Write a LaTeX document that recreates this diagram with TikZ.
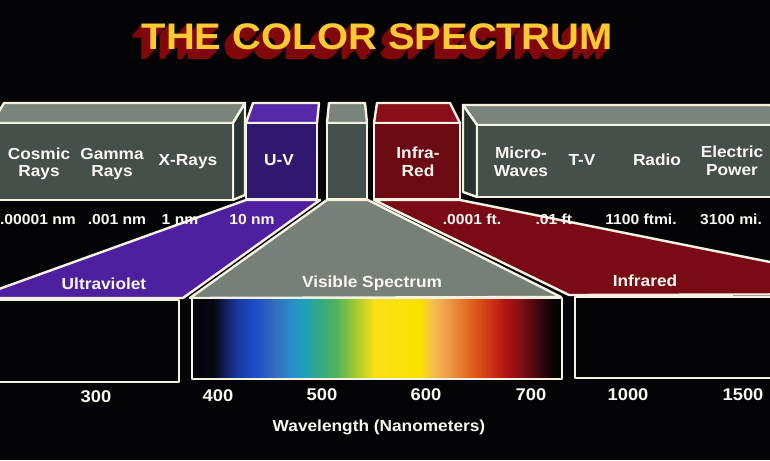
\documentclass[tikz,border=0pt]{standalone}
\usepackage{fontspec}
\setmainfont{Liberation Sans}[FakeStretch=1.08]
\definecolor{bg}{RGB}{4,4,6}
\definecolor{lineW}{RGB}{245,242,225}
\definecolor{txtW}{RGB}{248,248,240}
\definecolor{gFront}{RGB}{70,80,74}
\definecolor{gTop}{RGB}{120,132,124}
\definecolor{gSide}{RGB}{42,52,48}
\definecolor{gFun}{RGB}{118,128,120}
\definecolor{uFront}{RGB}{48,24,110}
\definecolor{uTop}{RGB}{88,40,170}
\definecolor{uFun}{RGB}{78,32,160}
\definecolor{rFront}{RGB}{108,10,20}
\definecolor{rTop}{RGB}{140,14,26}
\definecolor{rFun}{RGB}{122,10,22}
\definecolor{titleY}{RGB}{250,202,52}
\definecolor{titleR}{RGB}{128,8,10}
% spectrum colours
\definecolor{s0}{RGB}{5,5,10}
\definecolor{s1}{RGB}{6,6,16}
\definecolor{s2}{RGB}{15,25,70}
\definecolor{s3}{RGB}{25,55,160}
\definecolor{s4}{RGB}{30,75,200}
\definecolor{s5}{RGB}{50,110,190}
\definecolor{s6}{RGB}{40,140,200}
\definecolor{s7}{RGB}{30,160,190}
\definecolor{s8}{RGB}{50,170,130}
\definecolor{s9}{RGB}{80,180,90}
\definecolor{s10}{RGB}{160,200,50}
\definecolor{s11}{RGB}{250,225,20}
\definecolor{s12}{RGB}{250,225,0}
\definecolor{s13}{RGB}{245,190,80}
\definecolor{s14}{RGB}{235,150,70}
\definecolor{s15}{RGB}{225,100,30}
\definecolor{s16}{RGB}{210,60,20}
\definecolor{s17}{RGB}{180,20,20}
\definecolor{s18}{RGB}{120,15,20}
\definecolor{s19}{RGB}{60,5,10}
\definecolor{s20}{RGB}{10,5,8}
\definecolor{s21}{RGB}{5,5,5}
\newcommand\ttltxt{THE COLOR SPECTRUM}
\newcommand\shlayer[2]{\rlap{\kern-#1pt\raisebox{-#2pt}{\ttltxt}}}
\newcommand\ttlshadow{\color{titleR}\shlayer{1.8}{2}\shlayer{3.6}{4}\shlayer{5.4}{6}\shlayer{7.2}{8}\shlayer{9}{10}}
\begin{document}
\begin{tikzpicture}[x=1pt,y=-1pt,line join=round,
  edge/.style={draw=lineW,line width=2.4pt},
  lbl/.style={text=txtW,font=\fontsize{16}{17.5}\selectfont\bfseries,align=center,inner sep=0pt},
  num/.style={text=txtW,font=\fontsize{14.5}{16}\selectfont\bfseries,inner sep=0pt},
  ax/.style={text=txtW,font=\fontsize{17}{18}\selectfont\bfseries,inner sep=0pt},
  ttl/.style={font=\fontsize{37}{40}\selectfont\bfseries,inner sep=0pt}]
\useasboundingbox (0,0) rectangle (770,460);
\fill[bg] (0,0) rectangle (770,460);
\begin{scope}
\clip (0,0) rectangle (770,460);
% funnels
\filldraw[fill=uFun,edge] (246,200) -- (320,200) -- (183,298) -- (-26,298) -- cycle;
\filldraw[fill=gFun,edge] (327,200) -- (368,200) -- (561,297) -- (190,298) -- cycle;
\filldraw[fill=rFun,edge] (374,200) -- (460,200) -- (930,294) -- (569,295) -- cycle;
% left big box
\filldraw[fill=gTop,edge] (-8,123) -- (233,123) -- (245,103) -- (4,103) -- cycle;
\filldraw[fill=gSide,edge] (233,123) -- (245,103) -- (245,195) -- (233,200) -- cycle;
\filldraw[fill=gFront,edge] (-8,123) rectangle (233,200);
% UV box
\filldraw[fill=uTop,edge] (246,123) -- (317,123) -- (319,103) -- (253,103) -- cycle;
\filldraw[fill=uFront,edge] (246,123) rectangle (317,199);
% visible box
\filldraw[fill=gTop,edge] (327,123) -- (367,123) -- (365,103) -- (329,103) -- cycle;
\filldraw[fill=gFront,edge] (327,123) rectangle (367,199);
% IR box
\filldraw[fill=rTop,edge] (374,123) -- (460,123) -- (450,103) -- (377,103) -- cycle;
\filldraw[fill=rFront,edge] (374,123) rectangle (460,199);
% right big box
\filldraw[fill=gTop,edge] (477,125) -- (790,125) -- (770,105) -- (463,105) -- cycle;
\filldraw[fill=gSide,edge] (463,105) -- (477,125) -- (477,197) -- (463,192) -- cycle;
\filldraw[fill=gFront,edge] (477,125) rectangle (790,197);
% bottom boxes
\filldraw[fill=bg,edge] (-10,300) rectangle (179,382);
\filldraw[fill=bg,edge] (575,297) rectangle (790,378);
% spectrum
\foreach \x/\c [remember=\x as \px (initially 194), remember=\c as \pc (initially s0)] in
  {213/s1,222/s2,237/s3,255/s4,275/s5,290/s6,303/s7,320/s8,337/s9,355/s10,375/s11,420/s12,
   433/s13,450/s14,470/s15,487/s16,505/s17,523/s18,540/s19,552/s20,561/s21}
  {\fill[left color=\pc,right color=\c] (\px-0.4,299) rectangle (\x,378);}
\draw[edge] (192,298) rectangle (562,379);
\end{scope}
% title with extruded shadow (one node)
\node[ttl,text=titleY,anchor=base] (title) at (377,49) {\rlap{\ttlshadow}\ttltxt};
% box labels
\node[lbl] (cosmic) at (39,164) {Cosmic\\Rays};
\node[lbl] (gamma) at (112,164) {Gamma\\Rays};
\node[lbl] (xray) at (188,162) {X-Rays};
\node[lbl] (uv) at (279,160) {U-V};
\node[lbl] (ir) at (418,162) {Infra-\\Red};
\node[lbl] (micro) at (521,162) {Micro-\\Waves};
\node[lbl] (tv) at (582,160) {T-V};
\node[lbl] (radio) at (657,160) {Radio};
\node[lbl] (power) at (732,161) {Electric\\Power};
% wavelength labels
\node[num,anchor=base] (n1) at (38,224) {.00001 nm};
\node[num,anchor=base] (n2) at (117,224) {.001 nm};
\node[num,anchor=base] (n3) at (180,224) {1 nm};
\node[num,anchor=base] (n4) at (252,224) {10 nm};
\node[num,anchor=base] (n5) at (472,224) {.0001 ft.};
\node[num,anchor=base] (n6) at (556,224) {.01 ft.};
\node[num,anchor=base] (n7) at (641,224) {1100 ftmi.};
\node[num,anchor=base] (n8) at (731,224) {3100 mi.};
% funnel labels
\node[lbl] (uvl) at (104,284) {Ultraviolet};
\node[lbl] (visl) at (372,283) {Visible Spectrum};
\node[lbl] (irl) at (645,281) {Infrared};
% axis
\node[ax,anchor=base] (a300) at (96,402) {300};
\node[ax,anchor=base] (a400) at (218,401) {400};
\node[ax,anchor=base] (a500) at (322,400) {500};
\node[ax,anchor=base] (a600) at (426,400) {600};
\node[ax,anchor=base] (a700) at (531,400) {700};
\node[ax,anchor=base] (a1000) at (628,400) {1000};
\node[ax,anchor=base] (a1500) at (743,400) {1500};
\node[lbl,anchor=base] (wl) at (379,431) {Wavelength (Nanometers)};
\end{tikzpicture}
\end{document}
